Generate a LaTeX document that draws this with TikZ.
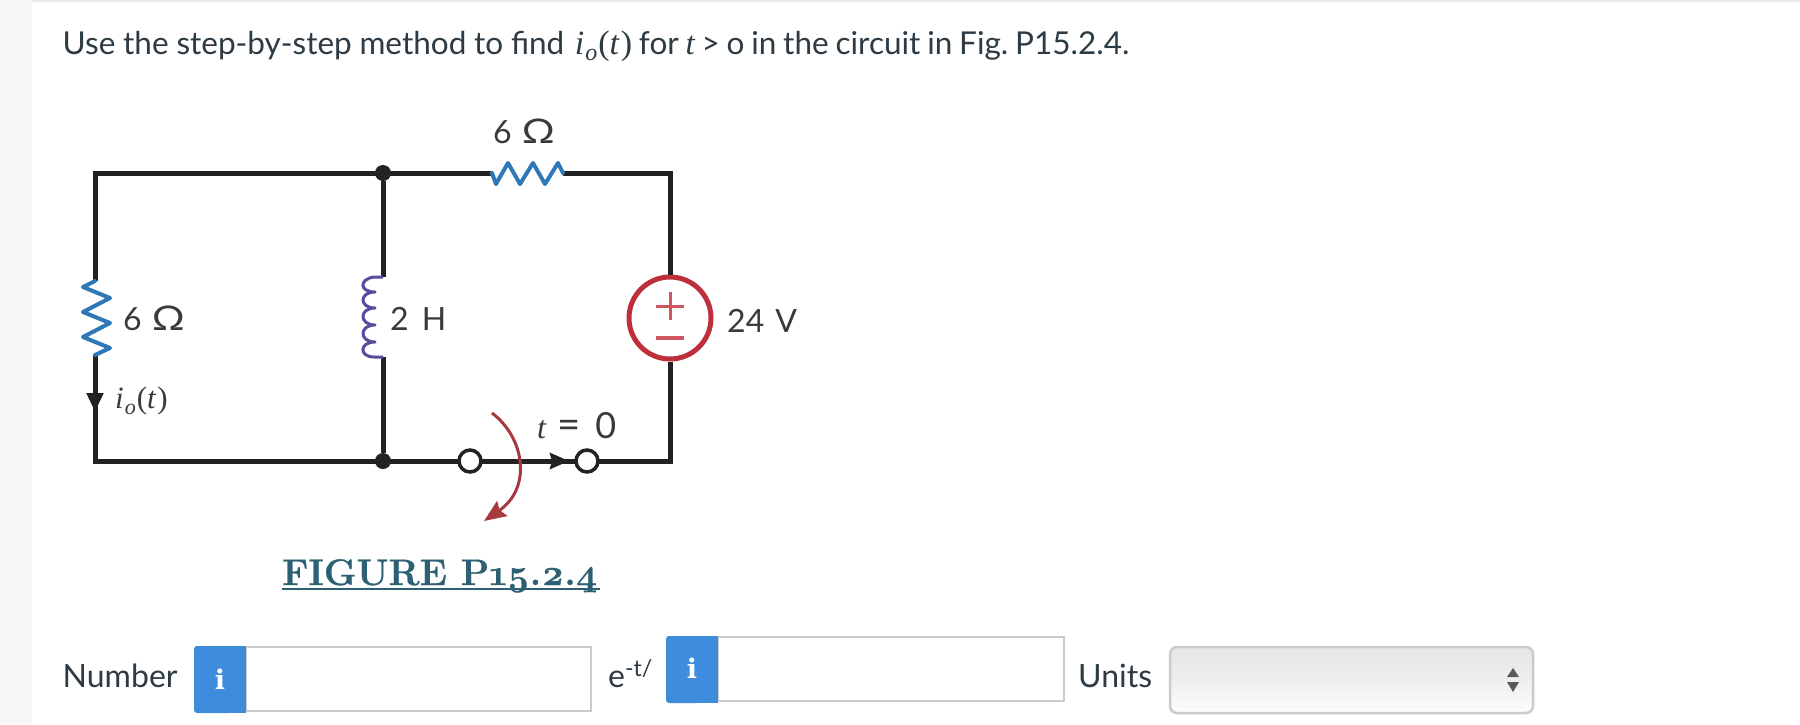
\documentclass[tikz,border=0pt]{standalone}
\usepackage{fontspec}
\setmainfont{Lato}
\newfontfamily\mathfont{Liberation Serif}
\newfontfamily\figfont[Numbers=OldStyle,BoldFeatures={FakeBold=0.6}]{Latin Modern Roman}
\newfontfamily\btnfont{DejaVu Serif}
\usetikzlibrary{arrows.meta}
\definecolor{ink}{HTML}{2D3B45}
\definecolor{wirec}{HTML}{222222}
\definecolor{resc}{HTML}{2F78B7}
\definecolor{indc}{HTML}{5C4B9B}
\definecolor{srcc}{HTML}{BE2F3C}
\definecolor{signc}{HTML}{CC5560}
\definecolor{swc}{HTML}{A8393F}
\definecolor{labc}{HTML}{3A3A3A}
\definecolor{figc}{HTML}{2C6072}
\definecolor{btnc}{HTML}{3E8DDD}
\definecolor{bordc}{HTML}{CBCBCB}
\newcommand\pxsize[1]{\fontsize{#1}{#1}\selectfont}
\newcommand\ohmsign{\scalebox{1.2}[1]{\pxsize{34}Ω}}
\tikzset{
  wire/.style={draw=wirec,line width=5pt,line join=miter},
  resistor/.style={draw=resc,line width=4pt,line join=round,line cap=round},
  coil/.style={draw=indc,line width=3pt,line join=round},
  dot/.style={circle,fill=wirec,inner sep=0pt,minimum size=16pt},
  terminal/.style={circle,draw=wirec,fill=white,line width=3.5pt,inner sep=0pt,minimum size=22pt},
  src/.style={circle,draw=srcc,fill=white,line width=5pt,inner sep=0pt,minimum size=82pt},
  clabel/.style={text=labc,inner sep=0pt,anchor=base west,font=\pxsize{32}},
  uitext/.style={text=ink,inner sep=0pt,anchor=base west,font=\pxsize{32}},
  inputbox/.style={draw=bordc,fill=white,line width=2.5pt},
  btnbox/.style={fill=btnc,rounded corners=3pt},
  btnglyph/.style={text=white,inner sep=0pt,anchor=base,font=\btnfont\bfseries\pxsize{27}}
}
\begin{document}
\begin{tikzpicture}[x=1pt,y=-1pt]
\frenchspacing
\useasboundingbox (0,0) rectangle (1800,724);
\fill[white] (0,0) rectangle (1800,724);
\fill[black!3] (0,0) rectangle (32,724);
\fill[black!8] (32,0) rectangle (1800,2);

% heading
\node[uitext,font=\pxsize{31.5}] (title) at (62.5,54) {\spaceskip=7.8pt Use the step-by-step method to find \kern3pt{\mathfont\pxsize{34}\textit{i}\kern1pt\raisebox{-6pt}{\pxsize{24}\textit{o}}\kern1pt(\textit{t}\kern1pt)}\spaceskip=6.8pt{} for {\mathfont\itshape\pxsize{33}t} > o in the circuit in Fig. P15.2.4.};

% named points of the circuit
\coordinate (tl) at (95,173);
\coordinate (tr) at (670,173);
\coordinate (bl) at (95,461);
\coordinate (br) at (670,461);
\coordinate (rla) at (95,281);
\coordinate (rlb) at (95,355);
\coordinate (rta) at (492,173);
\coordinate (rtb) at (563,173);
\coordinate (la) at (383,277);
\coordinate (lb) at (383,357);
\coordinate (io) at (95,412);
\coordinate (swtip) at (569,461);

\node[src] (V) at (670,318) {};
\node[dot] (jt) at (383,173) {};
\node[dot] (jb) at (383,461) {};

% wires
\draw[wire] (rla) -- (tl) -- (rta);
\draw[wire] (rtb) -- (tr) -- (V.north);
\draw[wire] (V.south) -- (br) -- (bl) -- (rlb);
\draw[wire] (jt) -- (la);
\draw[wire] (lb) -- (jb);
\draw[wirec,line width=5pt,-{Stealth[length=19pt,width=16pt,inset=0pt]}] (rlb) -- (io);

% switch terminals
\node[terminal] (s1) at (470,461) {};
\node[terminal] (s2) at (587,461) {};
\draw[wirec,line width=4pt,-{Stealth[length=19pt,width=16pt,inset=2pt]}] (s1) -- (swtip);

% resistors
\draw[resistor] (rta) -- (496,184) -- (508,163) -- (520,184) -- (533,163) -- (545,184) -- (558,163) -- (rtb);
\draw[resistor] (rla) -- (83,287) -- (110,298) -- (83,312) -- (110,323) -- (83,337) -- (110,348) -- (rlb);

% inductor
\draw[coil] (la) -- (374,277) .. controls (359,279) and (359,292) .. (375,292)
  .. controls (359,292) and (359,308) .. (375,308)
  .. controls (359,308) and (359,325) .. (375,325)
  .. controls (359,325) and (359,342) .. (375,342)
  .. controls (359,342) and (359,357) .. (374,357) -- (lb);

% source signs
\draw[signc,line width=3pt] (656,306) -- (684,306) (670,292) -- (670,320);
\draw[signc,line width=3.5pt] (656,338) -- (684,338);

% switch arrow
\coordinate (arcs) at (492,413);
\coordinate (arce) at (484,521);
\draw[swc,line width=3pt,-{Stealth[length=22pt,width=18pt,inset=3pt]}] (arcs) .. controls (525,438) and (532,488) .. (arce);

% circuit labels
\node[clabel] (lr1) at (493,143) {6\kern10pt\ohmsign};
\node[clabel] (lr2) at (123,330) {6\kern10pt\ohmsign};
\node[clabel] (ll) at (390,330) {2\kern13pt H};
\node[clabel] (lv) at (727,332) {24\kern11pt V};
\node[text=labc,inner sep=0pt,anchor=base west,font=\mathfont\pxsize{31}] (li) at (115,408) {\textit{i}\kern1pt\raisebox{-6pt}{\pxsize{22}\textit{o}}\kern1pt(\textit{t}\kern1pt)};
\node[text=labc,inner sep=0pt,anchor=base west,font=\pxsize{36}] (lt) at (537,438) {{\mathfont\itshape\pxsize{32}t}\kern11pt{\pxsize{40}=}\kern15pt 0};

% figure caption
\node[text=figc,inner sep=0pt,anchor=base west,font=\figfont\bfseries\pxsize{37}] (fig) at (282,585) {FIGURE P15.2.4};
\draw[figc,line width=2pt] (282,589) -- (600,589);

% answer row
\node[uitext] (num) at (62.5,687) {Number};
\draw[inputbox] (246,647) rectangle (591,711);
\fill[btnbox] (194,646) rectangle (230,713);
\fill[btnc] (210,646) rectangle (246,713);
\node[btnglyph] (b1) at (220,689) {i};

\node[uitext] (exp) at (608,687) {e\raisebox{11pt}{\pxsize{23}-t/}};
\draw[inputbox] (718,637) rectangle (1064,701);
\fill[btnbox] (666,636) rectangle (700,703);
\fill[btnc] (684,636) rectangle (718,703);
\node[btnglyph] (b2) at (692,678) {i};

\node[uitext] (units) at (1078,687) {Units};
\shade[rounded corners=7pt,top color=black!10,bottom color=black!1,middle color=black!6.5] (1170,647) rectangle (1533,713);
\draw[bordc,line width=2.5pt,rounded corners=7pt] (1170,647) rectangle (1533,713);
\fill[black!65] (1513,668) -- (1519,677) -- (1507,677) -- cycle;
\fill[black!65] (1513,692) -- (1519,682) -- (1507,682) -- cycle;
\end{tikzpicture}
\end{document}
